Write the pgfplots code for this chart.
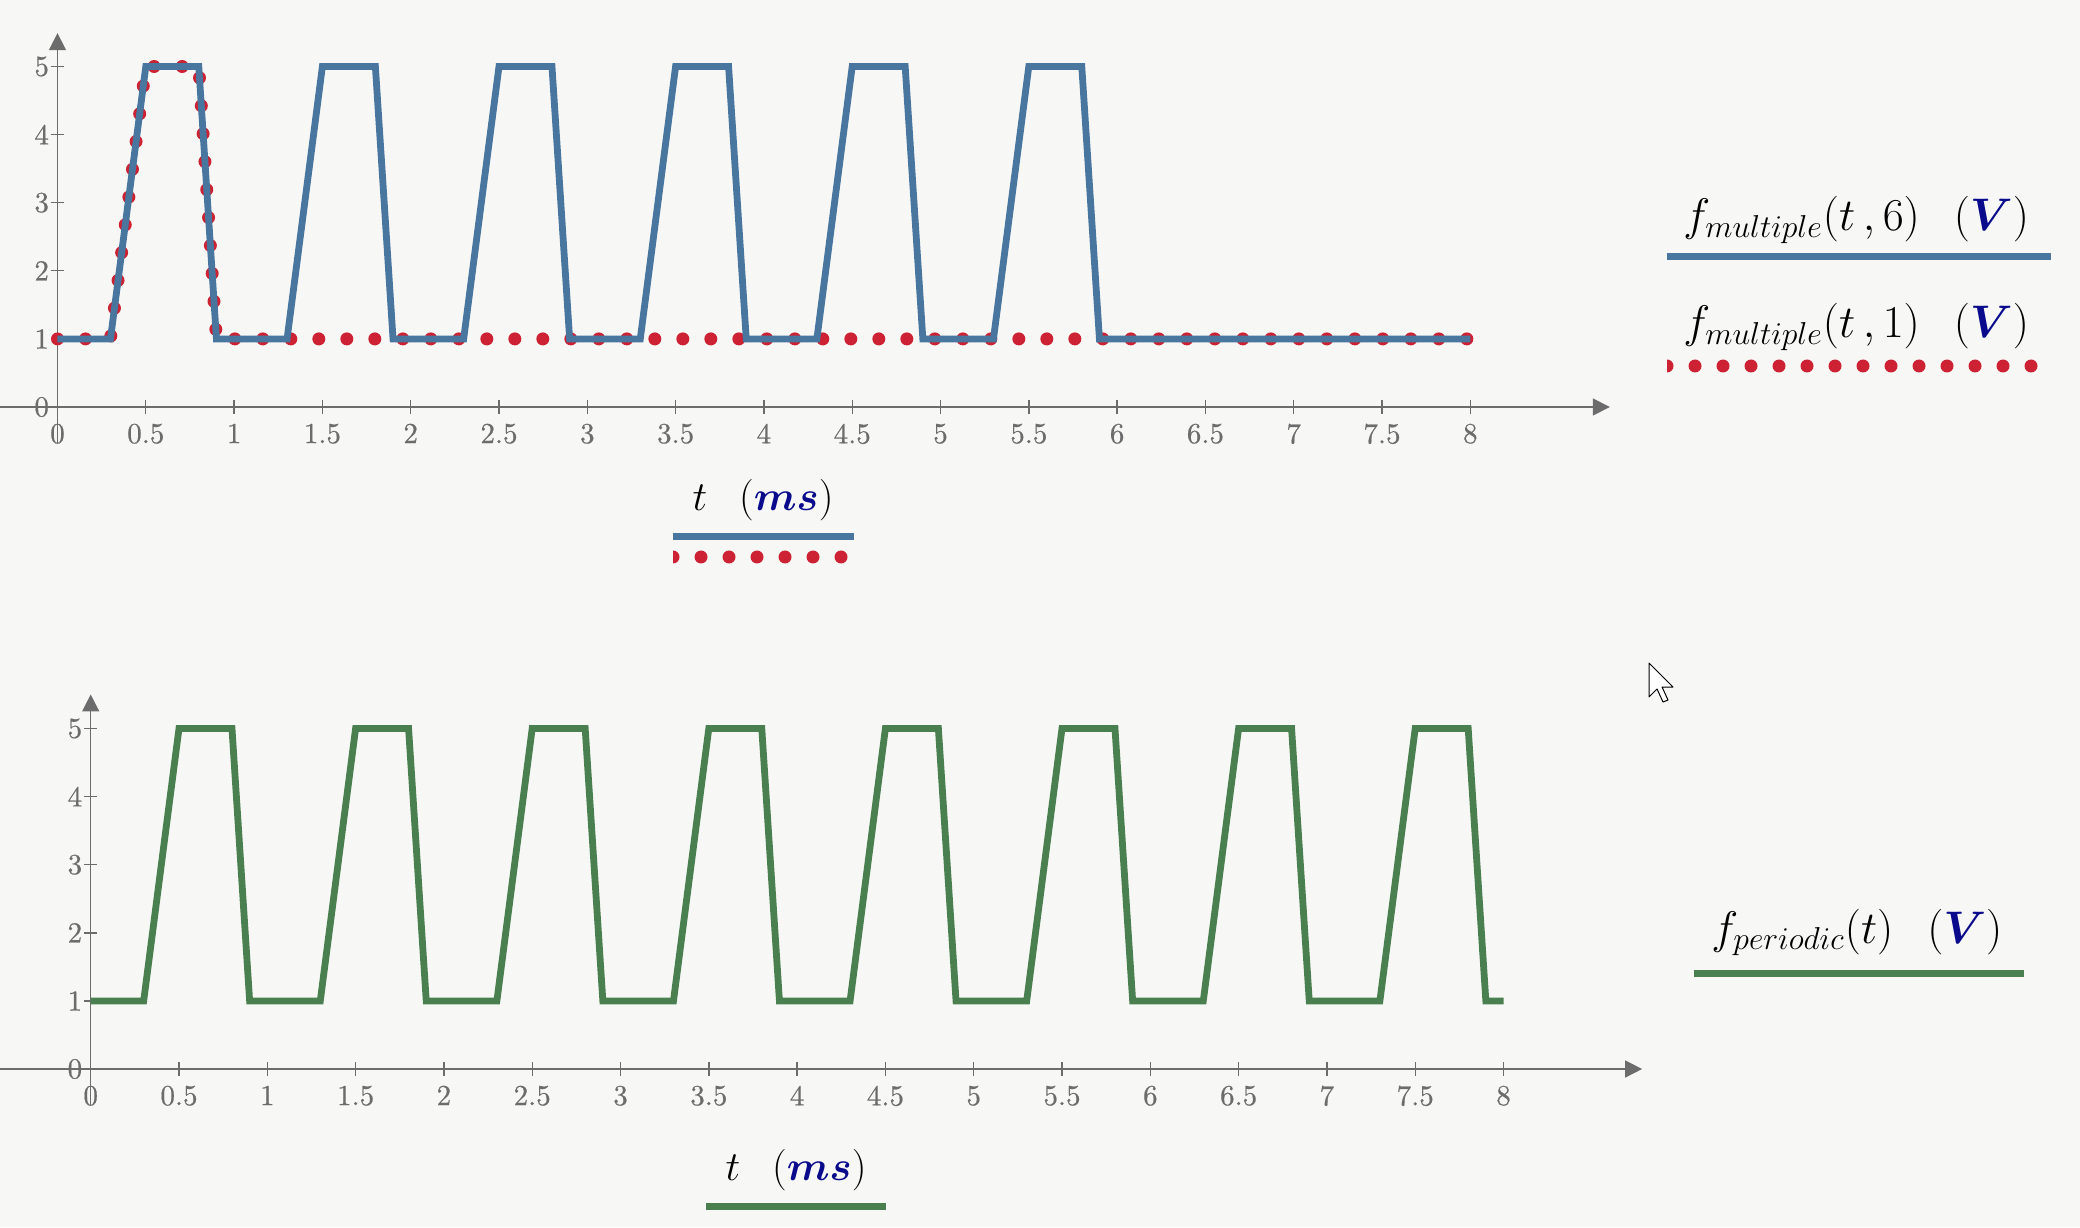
\documentclass[border=0pt]{standalone}
\usepackage{amsmath}
\usepackage{bm}
\usepackage{graphicx}
\usepackage{fontspec}
\newfontfamily\tickfont{lmroman10-regular}[Extension=.otf, FakeBold=0.6]
\usepackage{xcolor}
\usepackage{pgfplots}
\pgfplotsset{compat=1.18}
\usetikzlibrary{arrows.meta}
\definecolor{bg}{RGB}{247,248,246}
\definecolor{axgray}{RGB}{108,108,108}
\definecolor{lblue}{RGB}{72,118,158}
\definecolor{lred}{RGB}{204,34,51}
\definecolor{lgreen}{RGB}{74,128,80}
\definecolor{navyV}{RGB}{10,10,140}
\newcommand{\uV}{\textcolor{navyV}{\bm{V}}}
\newcommand{\ums}{\textcolor{navyV}{\bm{ms}}}
\newcommand{\bigf}{\fontsize{22}{26}\selectfont}
\pgfplotsset{
  myax/.style={
    x=88.3pt, y=34.05pt,
    axis lines=middle,
    clip=false,
    axis line style={axgray, line width=0.7pt},
    every inner x axis line/.append style={-{Triangle[width=8.5pt,length=8.5pt]}},
    every inner y axis line/.append style={-{Triangle[width=8.5pt,length=8.5pt]}},
    tick style={axgray, line width=0.7pt},
    major tick length=6.7pt,
    tick align=center,
    hide obscured x ticks=false,
    hide obscured y ticks=false,
    xtick={0,0.5,1,1.5,2,2.5,3,3.5,4,4.5,5,5.5,6,6.5,7,7.5,8},
    ytick={0,1,2,3,4,5},
    /pgf/number format/assume math mode=true,
    tick label style={font=\tickfont\fontsize{14.5}{17}\selectfont, text=axgray},
    xticklabel style={anchor=north, yshift=-1.5pt},
    yticklabel style={anchor=east, xshift=2.6pt},
    xlabel={}, ylabel={},
  }
}
\begin{document}
\begin{tikzpicture}[x=1pt,y=1pt]
\fill[bg] (0,0) rectangle (1040,613.5);
\path[use as bounding box] (0,0) rectangle (1040,613.5);

% top axis
\begin{axis}[myax, at={(0.05pt,391.95pt)}, anchor=south west,
  xmin=-0.325, xmax=8.79, ymin=-0.53, ymax=5.49]
\addplot[lred, line width=6.5pt, dash pattern=on 0pt off 14pt, line cap=round] coordinates {
(0,1)(0.3,1)(0.5,5)(0.8,5)(0.9,1)(8,1)};
\addplot[lblue, line width=3.4pt] coordinates {
(0,1)(0.3,1)(0.5,5)(0.8,5)(0.9,1)
(1.3,1)(1.5,5)(1.8,5)(1.9,1)
(2.3,1)(2.5,5)(2.8,5)(2.9,1)
(3.3,1)(3.5,5)(3.8,5)(3.9,1)
(4.3,1)(4.5,5)(4.8,5)(4.9,1)
(5.3,1)(5.5,5)(5.8,5)(5.9,1)
(8,1)};
\end{axis}

% bottom axis
\begin{axis}[myax, at={(0pt,60.95pt)}, anchor=south west,
  xmin=-0.5136, xmax=8.785, ymin=-0.53, ymax=5.5]
\addplot[lgreen, line width=3.4pt] coordinates {
(0,1)(0.3,1)(0.5,5)(0.8,5)(0.9,1)
(1.3,1)(1.5,5)(1.8,5)(1.9,1)
(2.3,1)(2.5,5)(2.8,5)(2.9,1)
(3.3,1)(3.5,5)(3.8,5)(3.9,1)
(4.3,1)(4.5,5)(4.8,5)(4.9,1)
(5.3,1)(5.5,5)(5.8,5)(5.9,1)
(6.3,1)(6.5,5)(6.8,5)(6.9,1)
(7.3,1)(7.5,5)(7.8,5)(7.9,1)
(8,1)};
\end{axis}

% top legend
\node[anchor=base west, inner sep=0pt] at (841.5,498) {\scalebox{1.1}{\bigf $f_{multiple}(t\,,6)\hspace{15.5pt}(\uV)$}};
\draw[lblue, line width=3.5pt] (833.5,485) -- (1025.5,485);
\node[anchor=base west, inner sep=0pt] at (841.5,444.5) {\scalebox{1.1}{\bigf $f_{multiple}(t\,,1)\hspace{15.5pt}(\uV)$}};
\begin{scope}
\clip (833.5,420) rectangle (1025,440);
\draw[lred, line width=6.5pt, dash pattern=on 0pt off 14pt, line cap=round] (833.5,430.5) -- (1019,430.5);
\end{scope}

% top x label
\node[anchor=base, inner sep=0pt] at (381.5,358) {\bigf $t\hspace{16pt}(\ums)$};
\draw[lblue, line width=3.5pt] (336.5,345) -- (427,345);
\begin{scope}
\clip (336.5,325) rectangle (430,345);
\draw[lred, line width=6.5pt, dash pattern=on 0pt off 14pt, line cap=round] (336.5,335) -- (425,335);
\end{scope}

% bottom legend
\node[anchor=base west, inner sep=0pt] at (855.5,142) {\scalebox{1.1}{\bigf $f_{periodic}(t)\hspace{15.5pt}(\uV)$}};
\draw[lgreen, line width=3.5pt] (847,127) -- (1012,127);

% bottom x label
\node[anchor=base, inner sep=0pt] at (398,23.5) {\bigf $t\hspace{16pt}(\ums)$};
\draw[lgreen, line width=3.5pt] (353,10.5) -- (443,10.5);

% mouse cursor
\draw[black, line width=0.5pt, fill=white, line join=round]
  (824.5,282) -- (824.5,265) -- (828.5,269) -- (831.5,262.5) -- (834,263.5) -- (831,270) -- (836.5,270) -- cycle;
\end{tikzpicture}
\end{document}
